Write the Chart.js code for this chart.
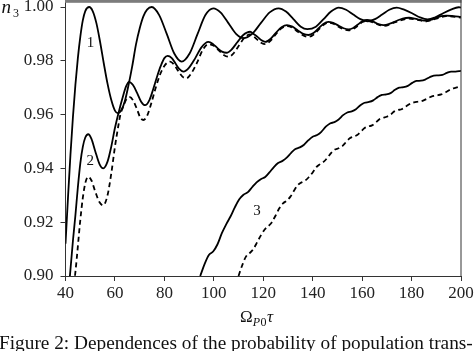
<!DOCTYPE html>
<html><head><meta charset="utf-8">
<script src="https://cdn.jsdelivr.net/npm/chart.js@4/dist/chart.umd.min.js"></script>
<style>html,body{margin:0;padding:0;background:#fff;overflow:hidden}#wrap{position:relative;width:474px;height:351px}</style>
</head><body><div id="wrap"><canvas id="c" width="474" height="351"></canvas></div>
<script>
const xTicks=[40,60,80,100,120,140,160,180,200];
const yTicks=[0.90,0.92,0.94,0.96,0.98,1.00];

const curve1X=[40,41,42,43,44,45,46,47,48,49.6,51,52.5,54,55.5,57,58.5,60,61.3,62.5,64,65.5,67,68.5,70,71.5,73,74.9,77.9,81,84,87,90.2,93.4,96.6,99.8,102.8,105.9,109,112,115.5,119,122.6,126.2,129.2,132.2,135.2,137.8,141.3,144.4,147.4,150.5,153.5,156.4,159.3,162.3,165.2,168.1,171,174,177,180.2,183.3,186.5,189.6,192.8,195.9,199,200];
const curve1Y=[0.912,0.929,0.945,0.959,0.971,0.981,0.989,0.995,0.9985,1.000,0.9985,0.994,0.987,0.979,0.9715,0.9655,0.9615,0.9605,0.9615,0.965,0.971,0.978,0.986,0.992,0.9965,0.999,1.000,0.997,0.9899,0.9827,0.9797,0.9827,0.9899,0.997,0.9995,0.9979,0.994,0.990,0.9884,0.990,0.994,0.998,0.9995,0.9983,0.9955,0.9927,0.9918,0.9927,0.9955,0.9983,0.9998,0.999,0.9972,0.9955,0.9947,0.9955,0.9972,0.999,0.9998,0.999,0.9977,0.9962,0.9954,0.9962,0.9977,0.999,0.9999,0.9998];

const curve2X=[41.5,43,44,45,46,47,48,49.2,50.5,52,53.8,55.3,57,58.5,60,61.5,63,64.5,65.7,67.3,69,70.6,72.2,74,75.5,77,78.5,80,81.3,83,84.5,86,87.7,90,92.5,95,97.8,99.7,101.5,103.3,105.2,107.3,109.5,111.8,114.7,116.2,117.7,119.3,120.8,123,125.2,127.4,129.6,131.8,134,136.2,138.3,140.3,142.3,144.3,146.3,148.3,150.4,152.5,154.5,156.4,158.3,160.1,162,163.7,165.3,167,168.7,171.2,173.8,176.4,179,180.8,182.5,184.3,186,188,190,192,194,197,200];
const curve2Y=[0.897,0.913,0.9225,0.933,0.942,0.948,0.9515,0.9527,0.951,0.9465,0.9415,0.940,0.9425,0.948,0.955,0.9608,0.966,0.9705,0.9722,0.971,0.968,0.9648,0.9635,0.9655,0.9695,0.974,0.978,0.981,0.9818,0.981,0.979,0.977,0.976,0.9775,0.981,0.985,0.987,0.9862,0.9847,0.9834,0.983,0.9843,0.9869,0.9895,0.9908,0.9899,0.9889,0.9876,0.987,0.9882,0.9905,0.9925,0.9933,0.9927,0.9913,0.990,0.9896,0.9903,0.992,0.9937,0.9945,0.9941,0.9931,0.9921,0.9917,0.9922,0.9935,0.9947,0.9952,0.9949,0.9942,0.9935,0.9933,0.9938,0.9948,0.9957,0.996,0.9958,0.9954,0.995,0.9949,0.9953,0.996,0.9966,0.9968,0.9966,0.9963];

const dash2X=[43.5,44.5,45.9,47,48,49.2,50.5,52,53.7,55.3,57,58.5,60,61.5,62.2,63.3,64.5,66.1,67.5,69,70.3,71.5,73,74.8,76.5,78.3,80.3,82.3,84,85.6,87.3,88.9,91,93.3,95.5,97.8,99.8,101.9,104,106,108.2,110.4,112.5,114.7,116.2,117.7,119.3,120.8,123,125.2,127.4,129.6,131.8,134,136.2,138.3,140.3,142.3,144.3,146.3,148.3,150.4,152.5,154.5,156.4,158.3,160.1,162,165.3,168.7,173.8,179,182.5,186,190,194,200];
const dash2Y=[0.897,0.906,0.92,0.929,0.9345,0.9369,0.9355,0.9315,0.9275,0.9263,0.930,0.938,0.948,0.9565,0.960,0.9628,0.9655,0.9665,0.965,0.9618,0.9588,0.958,0.9595,0.9645,0.970,0.975,0.9785,0.9797,0.9785,0.9762,0.9741,0.9735,0.9755,0.9795,0.984,0.9862,0.9857,0.984,0.9822,0.9815,0.983,0.986,0.9887,0.9898,0.989,0.9878,0.9866,0.9862,0.9875,0.990,0.9921,0.9929,0.9923,0.9908,0.9894,0.9889,0.9897,0.9915,0.9933,0.9942,0.9938,0.9927,0.9917,0.9913,0.9918,0.9931,0.9944,0.9949,0.9939,0.993,0.9945,0.9957,0.9952,0.9947,0.9957,0.9966,0.9961];

const curve3X=[94.5,96.3,98,99.8,101.5,103.3,105,106.8,108.5,110.3,112,113.8,115.5,117.3,119,120.8,122.5,124.3,126,127.8,129.5,131.3,133,134.8,136.5,138.3,140,141.8,143.5,145.3,147,148.8,150.5,152.3,154,155.8,157.5,159.3,161,162.8,164.5,166.3,168,169.8,171.5,173.3,175,176.8,178.5,180.3,182,183.8,185.5,187.3,189,190.8,192.5,194.3,196,197.8,199.5,200];
const curve3Y=[0.900,0.9045,0.9078,0.9092,0.9118,0.916,0.9192,0.9222,0.9255,0.9285,0.9302,0.9312,0.933,0.9348,0.936,0.9368,0.9385,0.9405,0.942,0.9428,0.944,0.9458,0.9472,0.9478,0.9488,0.9505,0.9518,0.9524,0.9536,0.9555,0.9567,0.9572,0.9582,0.9598,0.9608,0.9612,0.962,0.9635,0.9644,0.9647,0.9653,0.9665,0.9673,0.9675,0.968,0.9692,0.970,0.9702,0.9707,0.9718,0.9725,0.9726,0.973,0.9739,0.9745,0.9746,0.9748,0.9755,0.976,0.976,0.9762,0.9763];

const dash3X=[110,111.5,113,114.5,116,117.5,119,120.5,122,123.5,125,126.5,128,129.5,131,132.5,134,135.5,137,138.5,140,141.5,143,144.5,146,147.5,149,150.5,152,153.5,155,156.5,158,159.5,161,162.5,164,165.5,167,168.5,170,171.5,173,174.5,176,178,180,182,184,186,188,190,192,194,196,198,200];
const dash3Y=[0.900,0.904,0.9072,0.9085,0.910,0.9125,0.915,0.9172,0.9185,0.920,0.9225,0.9252,0.927,0.928,0.9295,0.9318,0.9338,0.9348,0.9355,0.9368,0.9385,0.9405,0.9416,0.9425,0.944,0.9458,0.947,0.9475,0.9483,0.9498,0.9512,0.9518,0.9524,0.9537,0.955,0.9556,0.956,0.957,0.9583,0.9588,0.9592,0.960,0.9612,0.9617,0.962,0.9632,0.9643,0.9647,0.965,0.9658,0.9667,0.9671,0.9675,0.9684,0.9695,0.970,0.9705];

const curveNames=['1','2','3'];
const caption='Figure 2: Dependences of the probability of population trans-';

function pts(xs,ys){return xs.map((x,i)=>({x:x,y:ys[i]}));}
const SERIF='"Liberation Serif","Times New Roman",serif';

function ds(xs,ys,dash){
  return {data:pts(xs,ys),borderColor:'#000',borderWidth:1.8,pointRadius:0,showLine:true,
    fill:false,cubicInterpolationMode:'monotone',borderDash:dash?[5,3.5]:[],clip:0,borderCapStyle:'butt'};
}

const deco={
  id:'deco',
  afterDraw(chart){
    const ctx=chart.ctx, a=chart.chartArea, xs=chart.scales.x, ys=chart.scales.y;
    ctx.save();
    ctx.fillStyle='#7c7c7c';
    ctx.fillRect(a.left-0.5,0,a.right-a.left+1,2.8);
    ctx.strokeStyle='#333';ctx.lineWidth=1;
    ctx.beginPath();ctx.moveTo(a.right,0);ctx.lineTo(a.right,a.bottom);ctx.stroke();
    ctx.fillStyle='#111';
    ctx.font='15px '+SERIF;ctx.textAlign='center';ctx.textBaseline='middle';
    const lp=[[50.1,0.9866],[50.0,0.9429],[117.5,0.9243]];
    curveNames.forEach((t,i)=>{ctx.fillText(t,xs.getPixelForValue(lp[i][0]),ys.getPixelForValue(lp[i][1]));});
    ctx.textAlign='left';ctx.textBaseline='alphabetic';
    ctx.font='italic 19px '+SERIF;ctx.fillText('n',1.5,13);
    ctx.font='12px '+SERIF;ctx.fillText('3',13,16.5);
    ctx.font='17px '+SERIF;ctx.fillText('\u03A9',240,322);
    let x=240+ctx.measureText('\u03A9').width;
    ctx.font='italic 12px '+SERIF;ctx.fillText('P',x,325.5);x+=ctx.measureText('P').width+0.5;
    ctx.font='12px '+SERIF;ctx.fillText('0',x,325.5);x+=ctx.measureText('0').width+0.5;
    ctx.font='italic 17px '+SERIF;ctx.fillText('\u03C4',x,322);
    let fs=18;ctx.font=fs+'px '+SERIF;
    const w=ctx.measureText(caption).width;fs=fs*474/w;
    ctx.font=fs.toFixed(2)+'px '+SERIF;ctx.fillText(caption,-1,349);
    ctx.restore();
  }
};

new Chart(document.getElementById('c'),{
  type:'scatter',
  data:{datasets:[ds(curve1X,curve1Y,false),ds(curve2X,curve2Y,false),ds(dash2X,dash2Y,true),ds(curve3X,curve3Y,false),ds(dash3X,dash3Y,true)]},
  options:{
    responsive:false,animation:false,devicePixelRatio:1,
    layout:{padding:{left:0,right:13,top:2,bottom:0}},
    plugins:{legend:{display:false},tooltip:{enabled:false}},
    scales:{
      x:{type:'linear',min:40,max:200,
        afterBuildTicks:s=>{s.ticks=xTicks.map(v=>({value:v}));},
        afterFit:s=>{s.height=75;s.paddingLeft=0;s.paddingRight=0;},
        ticks:{color:'#222',font:{family:SERIF,size:17},padding:2,maxRotation:0,autoSkip:false,callback:v=>String(v)},
        grid:{drawOnChartArea:false,drawTicks:true,tickLength:5,color:'#333'},
        border:{display:true,color:'#333',width:1}},
      y:{type:'linear',min:0.9,max:1.00186,
        afterBuildTicks:s=>{s.ticks=yTicks.map(v=>({value:v}));},
        afterFit:s=>{s.width=65.5;s.paddingTop=0;s.paddingBottom=0;},
        ticks:{color:'#222',font:{family:SERIF,size:17},padding:7,autoSkip:false,callback:v=>v.toFixed(2)},
        grid:{drawOnChartArea:false,drawTicks:true,tickLength:5,color:'#333'},
        border:{display:true,color:'#333',width:1}}
    }
  },
  plugins:[deco]
});
</script></body></html>
